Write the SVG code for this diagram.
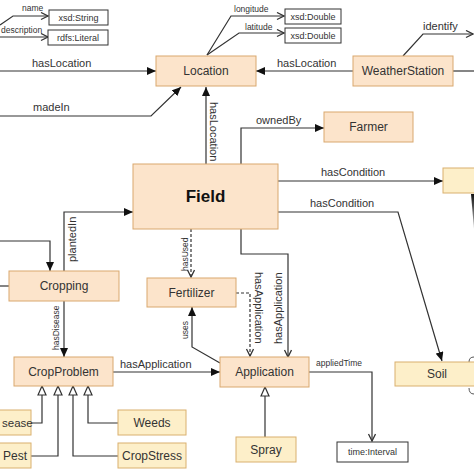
<svg xmlns="http://www.w3.org/2000/svg" width="474" height="474" viewBox="0 0 474 474">
<defs>
<style>
.n{fill:#FCE4CB;stroke:#D9A86E;stroke-width:1}
.y{fill:#FDEFC9;stroke:#D9B06E;stroke-width:1}
.d{fill:#fff;stroke:#333;stroke-width:1}
.t{font-family:"Liberation Sans",Arial,sans-serif;font-size:12px;fill:#333;text-anchor:middle}
.dt{font-family:"Liberation Sans",Arial,sans-serif;font-size:9px;fill:#333;text-anchor:middle}
.l{font-family:"Liberation Sans",Arial,sans-serif;font-size:11px;fill:#333}
.s{font-family:"Liberation Sans",Arial,sans-serif;font-size:8.5px;fill:#333}
.e{fill:none;stroke:#333;stroke-width:1.2}
.ef{fill:none;stroke:#333;stroke-width:1.2;marker-end:url(#af)}
.eo{fill:none;stroke:#333;stroke-width:1.2;marker-end:url(#ao)}
.eh{fill:none;stroke:#333;stroke-width:1.2;marker-end:url(#ah)}
.dash{stroke-dasharray:3,2}
</style>
<marker id="af" markerUnits="userSpaceOnUse" markerWidth="10" markerHeight="8" refX="9" refY="4" orient="auto"><path d="M0,0 L9,4 L0,8 Z" fill="#111"/></marker>
<marker id="ao" markerUnits="userSpaceOnUse" markerWidth="10" markerHeight="10" refX="8" refY="4" orient="auto"><path d="M1,0.5 L8,4 L1,7.5" fill="none" stroke="#333" stroke-width="1.3"/></marker>
<marker id="ah" markerUnits="userSpaceOnUse" markerWidth="12" markerHeight="12" refX="10" refY="5" orient="auto"><path d="M1,1 L10,5 L1,9 Z" fill="#fff" stroke="#333" stroke-width="1.2"/></marker>
<linearGradient id="g" x1="0" y1="0" x2="0" y2="1"><stop offset="0" stop-color="#111"/><stop offset="1" stop-color="#bbb"/></linearGradient>
</defs>
<rect width="474" height="474" fill="#fff"/>

<g id="connectors">
<path class="eo" d="M0,25 L13,16 L48,16"/>
<text class="s" x="22" y="11">name</text>
<path class="eo" d="M0,37 L48,37"/>
<text class="s" x="1" y="33">description</text>
<path class="eo" d="M207,55 L231,16 L284,16"/>
<text class="s" x="234" y="12">longitude</text>
<path class="eo" d="M207,55 L239,33 L284,33"/>
<text class="s" x="245" y="30">latitude</text>
<path class="eo" d="M403,56 L423,34 L473,34"/>
<text class="l" x="423" y="30">identify</text>
<path class="e" d="M453,71 L474,71"/>
<path class="ef" d="M0,71 L156,71"/>
<text class="l" x="32" y="67">hasLocation</text>
<path class="ef" d="M353,71 L256,71"/>
<text class="l" x="277" y="67">hasLocation</text>
<path class="ef" d="M0,116 L151,116 L181,87"/>
<text class="l" x="33" y="111">madeIn</text>
<path class="ef" d="M206,164 L206,87"/>
<text class="l" transform="translate(210,102) rotate(90)">hasLocation</text>
<path class="ef" d="M241,164 L241,128 L324,128"/>
<text class="l" x="256" y="124">ownedBy</text>
<path class="ef" d="M278,181 L443,181"/>
<text class="l" x="321" y="176">hasCondition</text>
<path class="ef" d="M278,212 L398,212 L442,361"/>
<text class="l" x="310" y="207">hasCondition</text>
<path d="M471,194 L474,194 L474,229 Z" fill="url(#g)"/>
<path class="ef" d="M64,271 L64,212 L133,212"/>
<text class="l" transform="translate(76,262) rotate(-90)">plantedIn</text>
<path class="ef" d="M0,241 L50,241 L50,271"/>
<path class="e" d="M0,286 L9,286"/>
<path class="ef" d="M64,301 L64,357"/>
<text class="s" transform="translate(59,350) rotate(-90)">hasDisease</text>
<path class="eo dash" d="M191,229 L191,277"/>
<text class="s" transform="translate(188,271) rotate(-90)">hasUsed</text>
<path class="eo" d="M241,229 L241,254 L288,254 L288,357"/>
<text class="l" transform="translate(282,344) rotate(-90)">hasApplication</text>
<path class="eo dash" d="M236,293 L250,293 L250,356"/>
<text class="l" transform="translate(255,272) rotate(90)">hasApplication</text>
<path class="ef" d="M220,363 L192,347 L192,307"/>
<text class="s" transform="translate(188,339) rotate(-90)">uses</text>
<path class="ef" d="M113,372 L220,372"/>
<text class="l" x="120" y="368">hasApplication</text>
<path class="eo" d="M309,372 L372,372 L372,441"/>
<text class="s" x="316" y="366">appliedTime</text>
<path class="eh" d="M265,437 L265,387"/>
<path class="eh" d="M31,423 L42,423 L42,386"/>
<path class="eh" d="M31,456 L58,456 L58,386"/>
<path class="eh" d="M118,456 L73,456 L73,386"/>
<path class="eh" d="M118,423 L88,423 L88,386"/>
<path d="M474,357 Q469,357 469,362" fill="none" stroke="#555" stroke-width="1"/>
<path d="M469,388 Q469,394 474,394" fill="none" stroke="#555" stroke-width="1"/>
</g>

<g id="xsdString"><rect class="d" x="49" y="10" width="59" height="15"/><text class="dt" x="78.5" y="21">xsd:String</text></g>
<g id="rdfsLiteral"><rect class="d" x="48" y="30" width="60" height="15"/><text class="dt" x="78" y="41">rdfs:Literal</text></g>
<g id="xsdDouble1"><rect class="d" x="285" y="9" width="56" height="15"/><text class="dt" x="313" y="20">xsd:Double</text></g>
<g id="xsdDouble2"><rect class="d" x="285" y="28" width="56" height="15"/><text class="dt" x="313" y="39">xsd:Double</text></g>
<g id="Location"><rect class="n" x="156" y="56" width="100" height="30"/><text class="t" x="206" y="75">Location</text></g>
<g id="WeatherStation"><rect class="n" x="353" y="56" width="100" height="30"/><text class="t" x="403" y="75">WeatherStation</text></g>
<g id="Farmer"><rect class="n" x="324" y="112" width="89" height="30"/><text class="t" x="368.5" y="131">Farmer</text></g>
<g id="Field"><rect class="n" x="133" y="164" width="145" height="65"/><text class="t" x="205.5" y="202" style="font-size:17px;font-weight:bold;fill:#111">Field</text></g>
<g id="Condition"><rect class="y" x="443" y="168" width="40" height="25"/></g>
<g id="Cropping"><rect class="n" x="9" y="271" width="110" height="30"/><text class="t" x="64" y="290">Cropping</text></g>
<g id="Fertilizer"><rect class="n" x="147" y="278" width="89" height="29"/><text class="t" x="191.5" y="297">Fertilizer</text></g>
<g id="CropProblem"><rect class="n" x="14" y="357" width="99" height="29"/><text class="t" x="63.5" y="376">CropProblem</text></g>
<g id="Application"><rect class="n" x="220" y="357" width="89" height="30"/><text class="t" x="264.5" y="376">Application</text></g>
<g id="Soil"><rect class="y" x="395" y="362" width="90" height="24"/><text class="t" x="437" y="378">Soil</text></g>
<g id="Disease"><rect class="y" x="-40" y="410" width="71" height="25"/><text class="t" x="2" y="427" style="text-anchor:start;font-size:11.5px">sease</text></g>
<g id="Pest"><rect class="y" x="-40" y="443" width="71" height="25"/><text class="t" x="27" y="460" style="text-anchor:end">Pest</text></g>
<g id="Weeds"><rect class="y" x="118" y="410" width="68" height="25"/><text class="t" x="152" y="427">Weeds</text></g>
<g id="CropStress"><rect class="y" x="118" y="443" width="68" height="25"/><text class="t" x="152" y="460">CropStress</text></g>
<g id="Spray"><rect class="y" x="236" y="437" width="60" height="25"/><text class="t" x="266" y="454">Spray</text></g>
<g id="timeInterval"><rect class="d" x="337" y="442" width="71" height="20"/><text class="dt" x="372.5" y="455">time:Interval</text></g>
</svg>
